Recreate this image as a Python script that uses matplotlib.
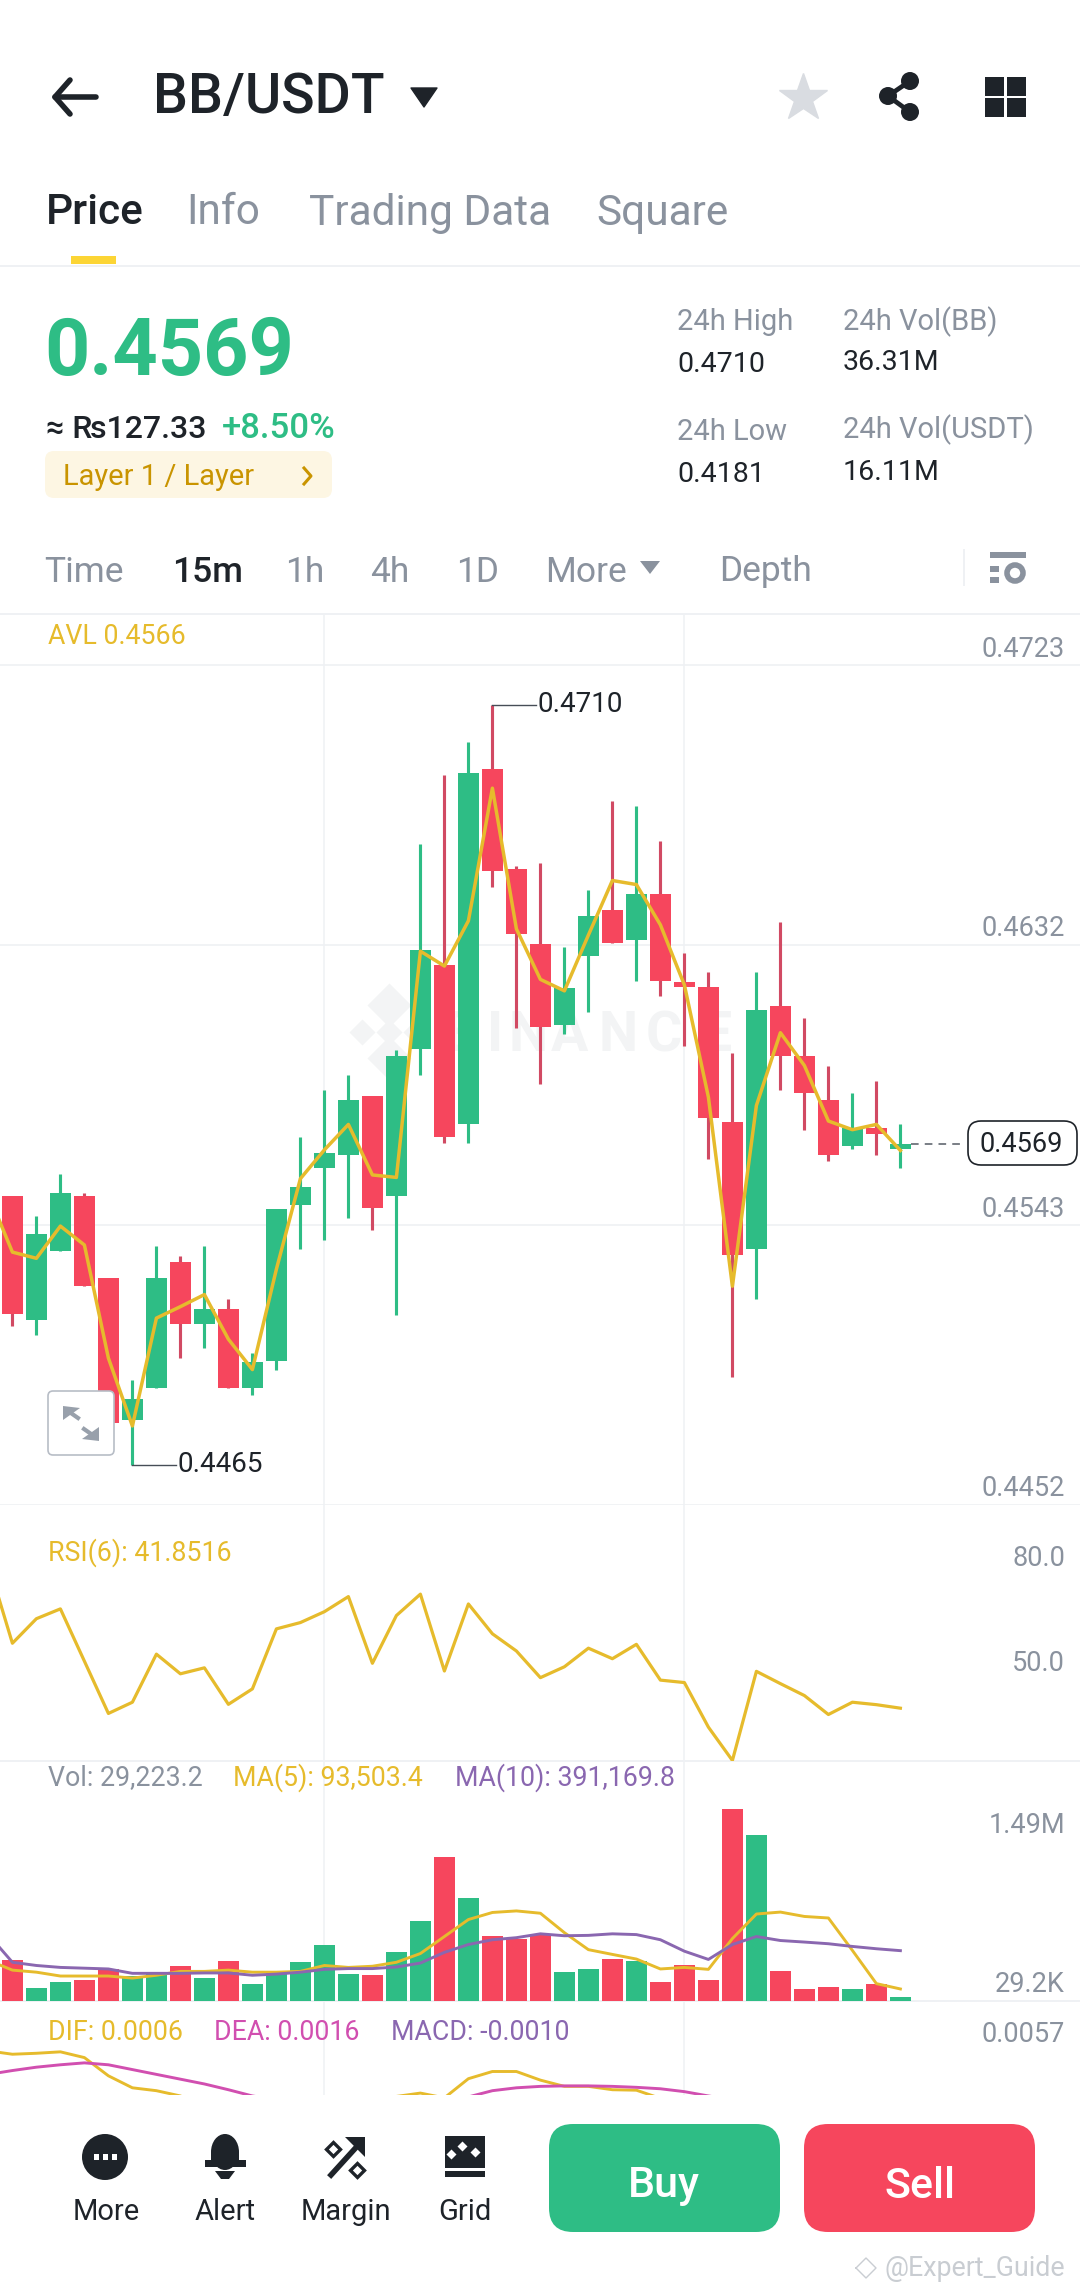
import numpy as np
import matplotlib
matplotlib.use('Agg')
import matplotlib.pyplot as plt
from matplotlib.patches import FancyBboxPatch, Circle, Polygon, Rectangle, Ellipse

plt.rcParams['font.family'] = ['Roboto', 'DejaVu Sans']

W, H = 1080, 2290
GREEN = '#2ebd85'
RED = '#f6465d'
RED_WICK = '#d14a63'
YELLOW = '#e6bb2c'
PURPLE = '#8a67b0'
MAGENTA = '#d14fb0'
DARK = '#1e2329'
GRAY = '#8a929e'
GRID = '#eff1f4'

# candles, oldest first
opens = [.45517, .45116, .45339, .45517, .45253, .44794, .44896, .45303, .45105, .45153,
         .44896, .44985, .45489, .45607, .45648, .45839, .45517, .45992, .46261, .45749,
         .46894, .46572, .46331, .46070, .46292, .46440, .46342, .46492, .46209, .46190,
         .45757, .45347, .46129, .45968, .45827, .45679, .45736, .45668]
closes = [.45137, .45396, .45526, .45226, .44783, .44861, .45253, .45105, .45153, .44896,
          .44983, .45476, .45546, .45657, .45827, .45477, .45968, .46311, .45709, .46883,
          .46565, .46363, .46061, .46188, .46420, .46333, .46492, .46211, .46192, .45770,
          .45327, .46118, .45970, .45849, .45649, .45736, .45718, .45685]
highs = [.45517, .45453, .45587, .45526, .45253, .44923, .45355, .45325, .45355, .45185,
         .45012, .45476, .45707, .45859, .45909, .45839, .45988, .46652, .46874, .46983,
         .47100, .46581, .46590, .46322, .46503, .46792, .46774, .46663, .46301, .46240,
         .45979, .46240, .46401, .46090, .45938, .45848, .45888, .45748]
lows = [.45096, .45068, .45339, .45226, .44783, .44650, .44896, .44994, .45025, .44896,
        .44874, .44955, .45346, .45375, .45446, .45407, .45134, .45909, .45688, .45688,
        .46513, .46059, .45879, .46040, .46111, .46333, .46211, .46161, .46000, .45638,
        .44934, .45186, .45859, .45729, .45629, .45668, .45649, .45609]

# these line series start one candle left of the screen edge
price_ma = [.45523, .45336, .45316, .45420, .45359, .44994, .44775, .45123, .45160, .45199,
            .45055, .44957, .45281, .45573, .45666, .45748, .45585, .45577, .46307, .46259,
            .46405, .46833, .46379, .46216, .46179, .46359, .46535, .46522, .46392, .46198,
            .45836, .45226, .45809, .46044, .45938, .45759, .45731, .45748, .45664]
rsi = [83.1, 60.4, 67.4, 70.2, 55.3, 40.4, 43.6, 57.3, 51.7, 53.4,
       43.0, 47.4, 64.5, 66.3, 69.4, 73.7, 54.7, 68.3, 74.4, 52.5,
       71.6, 63.1, 58.2, 50.6, 53.7, 59.0, 56.0, 60.1, 49.9, 49.2,
       36.5, 27.0, 52.4, 48.9, 45.5, 40.1, 43.6, 42.9, 41.9]

# volume in thousands
volume = [319, 104, 147, 166, 252, 194, 218, 270, 178, 313,
          132, 215, 301, 436, 212, 200, 378, 621, 1118, 799,
          504, 479, 516, 224, 246, 326, 307, 144, 283, 160,
          1490, 1290, 233, 92, 111, 92, 129, 29.2]
vol_ma5 = [316, 240, 224, 194, 194, 194, 178, 200, 230, 230,
           240, 224, 224, 230, 276, 261, 270, 301, 369, 501,
           633, 688, 700, 682, 531, 399, 362, 326, 249, 261,
           246, 485, 676, 691, 657, 645, 393, 135, 93.5]
vol_ma10 = [516, 301, 276, 261, 255, 249, 215, 215, 215, 218,
            218, 200, 209, 224, 246, 252, 252, 264, 295, 378,
            439, 476, 492, 522, 507, 510, 522, 516, 476, 387,
            323, 439, 501, 470, 458, 445, 424, 406, 391.2]

# macd panel is cut by the bottom bar, only the top of it shows
dif = [.00572, .00565, .00567, .00570, .00558, .00520, .00495, .00489, .00478, .00458,
       .00433, .00408, .00408, .00424, .00441, .00458, .00466, .00477, .00484, .00474,
       .00514, .00529, .00529, .00511, .00498, .00498, .00491, .00490, .00473, .00450]
dea = [.00523, .00531, .00538, .00543, .00547, .00543, .00533, .00523, .00513, .00503,
       .00491, .00478, .00470, .00465, .00462, .00462, .00463, .00465, .00470, .00474,
       .00476, .00489, .00495, .00498, .00499, .00499, .00498, .00496, .00493, .00487,
       .00478, .00470]

# labels are rounded, the grid itself is evenly spaced
price_ticks = [.4723, .46327, .45423, .4452]
price_labels = ['0.4723', '0.4632', '0.4543', '0.4452']
rsi_ticks = [80, 50]
rsi_labels = ['80.0', '50.0']
vol_ticks = [1490, 29.2]
vol_labels = ['1.49M', '29.2K']
time_ticks = [13, 28]

tabs = [('Price', 46, DARK), ('Info', 186, GRAY), ('Trading Data', 309, GRAY), ('Square', 596, GRAY)]
intervals = [('Time', 44, GRAY), ('15m', 172, DARK), ('1h', 285, GRAY), ('4h', 370, GRAY),
             ('1D', 456, GRAY), ('More', 545, GRAY), ('Depth', 719, GRAY)]
stats = [('24h High', '0.4710', 677, 320, 363), ('24h Vol(BB)', '36.31M', 843, 320, 361),
         ('24h Low', '0.4181', 677, 430, 473), ('24h Vol(USDT)', '16.11M', 843, 428, 471)]
bottom_items = [('More', 106), ('Alert', 225), ('Margin', 346), ('Grid', 465)]
brand_letters = [('B', 445), ('I', 487), ('N', 508), ('A', 551), ('N', 598), ('C', 646), ('E', 700)]

xmin = -12.4 / 24
xmax = (W - 12.4) / 24
x = np.arange(len(opens))
x_line = np.arange(-1, len(opens))
PX = 0.72  # one pixel in points at dpi 100

fig = plt.figure(figsize=(W / 100, H / 100), dpi=100, facecolor='white')


def panel(top, bottom):
    ax = fig.add_axes([0, 1 - bottom / H, 1, (bottom - top) / H], zorder=2)
    ax.patch.set_visible(False)
    ax.set_xlim(xmin, xmax)
    for s in ax.spines.values():
        s.set_visible(False)
    ax.set_xticks(time_ticks)
    ax.tick_params(length=0, labelbottom=False, labelleft=False)
    ax.grid(axis='x', color=GRID, lw=1.1)
    ax.set_axisbelow(True)
    return ax


def right_label(ax, val, txt, off):
    ax.annotate(txt, xy=(1, val), xycoords=ax.get_yaxis_transform(),
                xytext=(-15 * PX, off * PX), textcoords='offset points',
                ha='right', va='center', fontsize=19.5, color=GRAY)


# background and foreground layers in pixel coordinates
bg = fig.add_axes([0, 0, 1, 1], zorder=0)
fg = fig.add_axes([0, 0, 1, 1], zorder=3)
for a in (bg, fg):
    a.set_xlim(0, W)
    a.set_ylim(H, 0)
    a.axis('off')
fg.patch.set_visible(False)


def txt(px, py, s, size, color=DARK, ha='left', weight='normal'):
    # va=center sits a little high for this font
    fg.text(px, py + 2, s, fontsize=size, color=color, ha=ha, va='center', fontweight=weight)


# chart watermark
for cx, cy, ms in [(389, 1005, 15), (389, 1058, 15), (362, 1032, 9), (416, 1032, 9), (389, 1032, 9)]:
    bg.plot(cx, cy, 'D', ms=ms * 1.5, color='#f3f4f5', mec='none')
for letter, lx in brand_letters:
    bg.text(lx, 1036, letter, fontsize=40, fontweight='bold', color='#f3f4f5', ha='left', va='center')

for yy in (266, 614, 1761, 2001):
    bg.axhline(yy, color=GRID, lw=1.4)

# price panel
ax1 = panel(614, 1505)
ax1.set_ylim(.4452, .47395)
ax1.set_yticks(price_ticks)
ax1.grid(axis='y', color=GRID, lw=1.2)
colors = [GREEN if c >= o else RED for o, c in zip(opens, closes)]
wicks = [GREEN if c >= o else RED_WICK for o, c in zip(opens, closes)]
ax1.vlines(x, lows, highs, colors=wicks, lw=3.1 * PX, zorder=3)
body_h = np.abs(np.array(closes) - np.array(opens))
ax1.bar(x, body_h, bottom=np.minimum(opens, closes), width=0.86, color=colors, zorder=4)
ax1.plot(x_line, price_ma, color=YELLOW, lw=2.5, zorder=5)
for v, s, in zip(price_ticks, price_labels):
    right_label(ax1, v, s, 16)
ax1.plot([20, 21.8], [highs[20], highs[20]], color='#474d57', lw=1, zorder=3)
ax1.text(21.87, highs[20] + .00003, '0.4710', fontsize=20, color=DARK, va='center', ha='left')
ax1.plot([5, 6.8], [lows[5], lows[5]], color='#474d57', lw=1, zorder=3)
ax1.text(6.87, lows[5], '0.4465', fontsize=20, color=DARK, va='center', ha='left')
ax1.plot([37.45, 39.75], [closes[37], closes[37]], color='#555b64', lw=1.1, ls=(0, (5, 4)), zorder=3)
ax1.text(0.044, 0.9745, 'AVL 0.4566', transform=ax1.transAxes, fontsize=19.3, color=YELLOW, va='center')

# rsi panel
ax2 = panel(1505, 1761)
ax2.set_ylim(26.85, 99.8)
ax2.set_yticks([])
ax2.plot(x_line, rsi, color=YELLOW, lw=2.3)
for v, s in zip(rsi_ticks, rsi_labels):
    right_label(ax2, v, s, 16)

# volume panel
ax3 = panel(1761, 2001)
ax3.set_ylim(0, 1865)
ax3.set_yticks([])
ax3.bar(x, volume, width=0.86, color=colors, zorder=3)
ax3.plot(x_line, vol_ma5, color=YELLOW, lw=2.1, zorder=4)
ax3.plot(x_line, vol_ma10, color=PURPLE, lw=2.1, zorder=5)
right_label(ax3, vol_ticks[0], vol_labels[0], -16)
right_label(ax3, vol_ticks[1], vol_labels[1], 13)

# macd panel
ax4 = panel(2001, 2095)
ax4.set_ylim(.0048, .00676)
ax4.set_yticks([])
ax4.plot(np.arange(-1, len(dif) - 1), dif, color=YELLOW, lw=2.1)
ax4.plot(np.arange(-1, len(dea) - 1), dea, color=MAGENTA, lw=2.1)

# indicator legends
txt(48, 1551, 'RSI(6): 41.8516', 19.3, YELLOW)
txt(48, 1776, 'Vol: 29,223.2', 19.3, GRAY)
txt(233, 1776, 'MA(5): 93,503.4', 19.3, YELLOW)
txt(455, 1776, 'MA(10): 391,169.8', 19.3, PURPLE)
txt(48, 2031, 'DIF: 0.0006', 19.3, YELLOW)
txt(214, 2031, 'DEA: 0.0016', 19.3, MAGENTA)
txt(391, 2031, 'MACD: -0.0010', 19.3, PURPLE)
txt(1065, 2032, '0.0057', 19.5, GRAY, ha='right')

# last price tag
fg.add_patch(FancyBboxPatch((968, 1121), 109, 44, boxstyle='round,pad=0,rounding_size=13', fc='white', ec=DARK, lw=1.2))
txt(1063, 1142, '0.4569', 19.5, DARK, ha='right')

# expand button
fg.add_patch(FancyBboxPatch((48, 1391), 66, 64, boxstyle='round,pad=0,rounding_size=5', fc='white', ec='#b7bdc6', lw=1.2))
fg.add_patch(Polygon([(63, 1406), (80, 1408), (63, 1420)], fc='#98a0ab', ec='none'))
fg.add_patch(Polygon([(99, 1441), (82, 1439), (99, 1427)], fc='#98a0ab', ec='none'))
fg.plot([68, 78], [1411, 1418], color='#98a0ab', lw=3)
fg.plot([84, 94], [1429, 1436], color='#98a0ab', lw=3)

# header
fg.plot([55, 96], [97, 97], color=DARK, lw=4, solid_capstyle='round')
fg.plot([70, 55, 70], [80, 97, 114], color=DARK, lw=4, solid_capstyle='round', solid_joinstyle='round')
txt(153, 96, 'BB/USDT', 40, DARK, weight='medium')
fg.add_patch(Polygon([(411, 88), (437, 88), (424, 107)], fc=DARK, ec=DARK, lw=1, joinstyle='round'))
fg.plot(803, 98, '*', ms=36, color='#d9dce1', mec='#d9dce1')
for cx, cy in [(888, 96), (910, 81), (910, 112)]:
    fg.add_patch(Circle((cx, cy), 9, fc=DARK, ec='none'))
fg.plot([910, 888, 910], [81, 96, 112], color=DARK, lw=3.4)
for sx, sy in [(985, 77), (1007, 77), (985, 98), (1007, 98)]:
    fg.add_patch(Rectangle((sx, sy), 18.5, 18.5, fc=DARK, ec='none'))

# tabs
for s, px_, c in tabs:
    txt(px_, 211, s, 30.5, c, weight='medium' if c == DARK else 'normal')
fg.add_patch(Rectangle((71, 256), 45, 8, fc='#fcd535', ec='none'))

# price block
txt(44, 352, '0.4569', 57, GREEN, weight='bold')
txt(46, 427, '≈ ₨127.33', 23, DARK, weight='medium')
txt(222, 427, '+8.50%', 25, GREEN, weight='medium')
fg.add_patch(FancyBboxPatch((45, 451), 287, 47, boxstyle='round,pad=0,rounding_size=9', fc='#fdf6e3', ec='none'))
txt(63, 475, 'Layer 1 / Layer', 21, '#c99400')
fg.plot([304, 311, 304], [468, 476, 484], color='#c99400', lw=2.2)
for label, val, px_, y1, y2 in stats:
    txt(px_, y1, label, 21, GRAY)
    txt(px_, y2, val, 20.5, DARK)

# interval row
for s, px_, c in intervals:
    txt(px_, 570, s, 25.5, c, weight='medium' if c == DARK else 'normal')
fg.add_patch(Polygon([(640, 561), (660, 561), (650, 574)], fc=GRAY, ec='none'))
fg.plot([964, 964], [550, 585], color=GRID, lw=1.4)
fg.add_patch(Rectangle((990, 552), 36, 6, fc=GRAY, ec='none'))
fg.add_patch(Rectangle((990, 566), 9, 6, fc=GRAY, ec='none'))
fg.add_patch(Rectangle((990, 577), 9, 6, fc=GRAY, ec='none'))
fg.add_patch(Circle((1015, 573), 8, fc='white', ec=GRAY, lw=4))

# bottom bar
fg.add_patch(Circle((105, 2157), 23, fc=DARK, ec='none'))
for dx in (-9, 0, 9):
    fg.add_patch(Rectangle((105 + dx - 2.5, 2154), 5, 6, fc='white', ec='none'))
fg.add_patch(Ellipse((225, 2152), 28, 36, fc=DARK, ec='none'))
fg.add_patch(Rectangle((211, 2152), 28, 14, fc=DARK, ec='none'))
fg.add_patch(Rectangle((205, 2160), 41, 7, fc=DARK, ec='none'))
fg.add_patch(Polygon([(215, 2171), (235, 2171), (229, 2179), (221, 2179)], fc=DARK, ec='none'))
fg.plot([331, 361], [2175, 2142], color=DARK, lw=4)
fg.add_patch(Polygon([(345, 2137), (365, 2137), (365, 2157)], fc=DARK, ec='none'))
fg.plot(333, 2149, 'D', ms=7, mfc='white', mec=DARK, mew=2.4)
fg.plot(357, 2170, 'D', ms=7, mfc='white', mec=DARK, mew=2.4)
fg.add_patch(Polygon([(445, 2136), (485, 2136), (485, 2168), (445, 2168)], fc=DARK, ec='none'))
fg.add_patch(Rectangle((445, 2171), 40, 6, fc=DARK, ec='none'))
for mx, my in [(462, 2146), (475, 2152), (451, 2154)]:
    fg.plot(mx, my, 'D', ms=5, color='white', mec='none')
fg.add_patch(Polygon([(445, 2162), (452, 2156), (460, 2160), (465, 2164), (485, 2150), (485, 2163), (445, 2163)], fc=DARK, ec='none'))
for s, cx in bottom_items:
    txt(cx, 2210, s, 21, DARK, ha='center')

fg.add_patch(FancyBboxPatch((549, 2124), 231, 108, boxstyle='round,pad=0,rounding_size=24', fc=GREEN, ec='none'))
fg.add_patch(FancyBboxPatch((804, 2124), 231, 108, boxstyle='round,pad=0,rounding_size=24', fc=RED, ec='none'))
txt(664, 2184, 'Buy', 31, 'white', ha='center', weight='medium')
txt(920, 2184, 'Sell', 31, 'white', ha='center', weight='medium')

# source watermark
fg.plot([856, 866, 876, 866, 856], [2268, 2278, 2268, 2258, 2268], color='#c9cdd2', lw=1)
txt(884, 2266, '@Expert_Guide', 19.3, '#c9cdd2')

fig.savefig('out.png', dpi=100, facecolor='white')
